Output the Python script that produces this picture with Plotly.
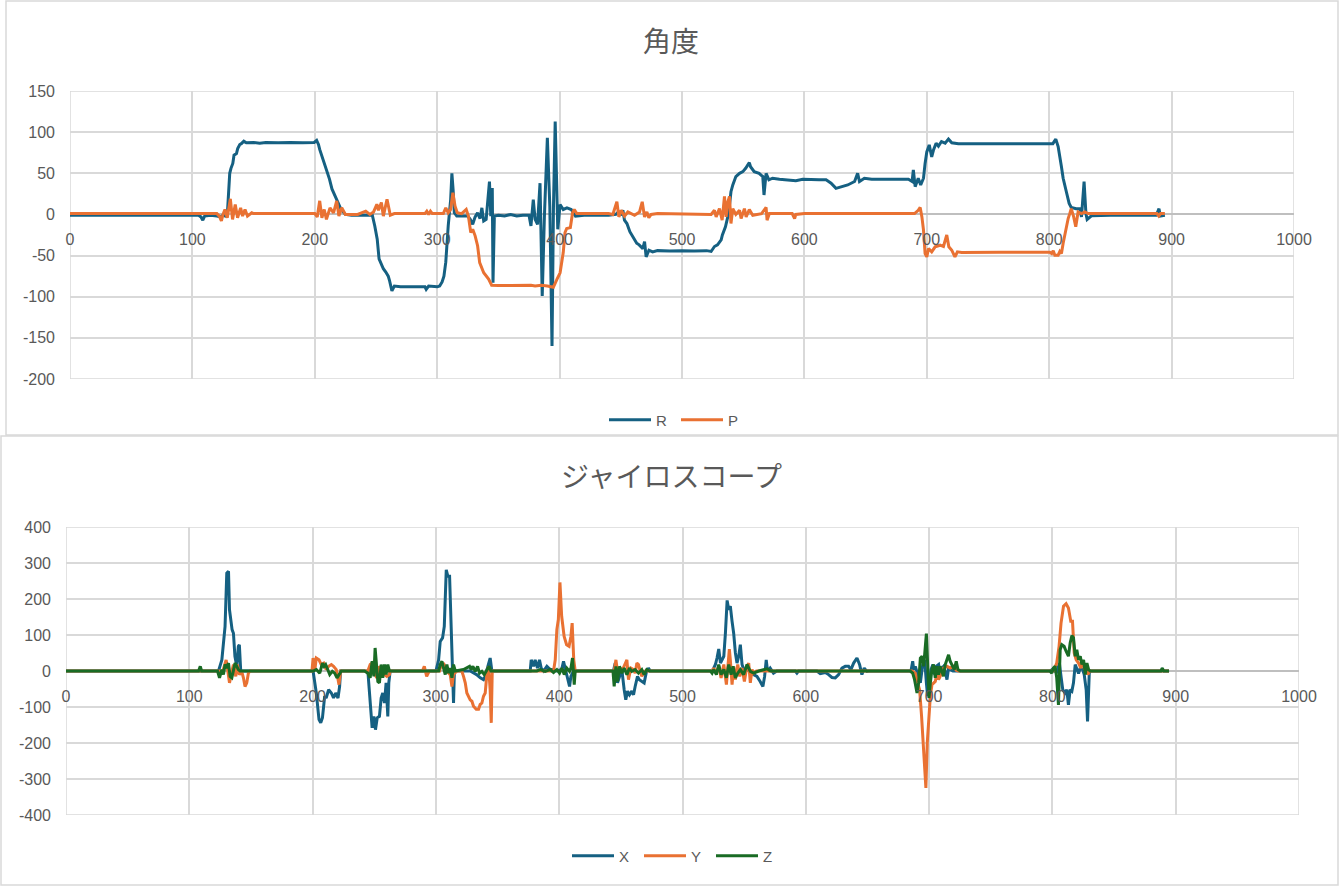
import plotly.graph_objects as go

# ---------------- data: 角度 (angle) ----------------
R_x = [0, 20, 50, 80, 105, 107, 108.5, 110, 115, 120, 123, 125, 127, 128.5, 129.5, 130.5, 131.5, 133, 134, 136, 137, 138.7, 140, 142, 144, 150, 155, 160, 170, 180, 190, 199.5, 201.5, 203, 204, 206, 207, 209, 212, 214, 216, 218, 220, 221.5, 225, 230, 240, 247, 249, 251, 252.5, 256, 258, 260, 261, 263, 265, 270, 280, 290, 291, 293, 300, 302, 304, 305.5, 307, 308, 309, 311, 312, 313, 314, 316, 320, 325, 327, 329, 331, 333, 335, 336.5, 338, 340, 342.7, 343.8, 345, 345.6, 346.7, 350, 355, 360, 365, 370, 375, 376.6, 378.5, 380, 382, 384, 385.8, 387.6, 390, 392, 393.8, 395, 396.4, 398.5, 400.4, 403, 406, 409.5, 413, 420, 430, 440, 446, 448, 450, 451.7, 453, 455, 457.4, 460, 463, 465, 468, 469.4, 470.7, 473, 476, 480, 490, 500, 510, 520, 523.8, 526.5, 529, 532, 533, 535.5, 537.4, 538.8, 540, 541.5, 544, 547, 549.7, 552, 555, 556, 559, 563, 566, 567, 568.7, 571, 574, 579.6, 585, 593, 598.6, 605, 612, 617.7, 621.8, 625.8, 629.9, 635.4, 641, 643.5, 645, 649, 655, 665, 675, 685, 688, 689, 690.5, 693, 695, 697.3, 698.6, 700, 702, 704, 705.4, 707.6, 709.5, 712, 715, 717.7, 720.4, 725.8, 740, 760, 780, 803, 805.4, 807.3, 810, 811.4, 814, 816.3, 818, 822, 825, 826.4, 828.5, 830, 831, 834.5, 850, 870, 887.5, 889.7, 890.8, 894.5]
R_y = [-1, -1, -1, -1, -1, -3, -7, -2, -1, -2, -3, -1, -2, -1, 20, 50, 56, 62, 72, 74, 80, 85, 86, 89, 87, 87.5, 86.5, 87.5, 87, 87.5, 87, 87.5, 90, 85, 79, 70, 63, 55, 43, 31, 24, 18, 10, 6, 0, -1, -1, -1, -14, -30, -54, -66, -70, -75, -80, -93, -87, -88, -88, -88, -91, -87, -88, -87, -82, -75, -58, -30, -14, 18, 50, 30, 2, -2, -2, -2, -6, -12, -3, 2, -5, 8, -8, -6, 40, -2, 32, -83, -2, -1, -2, 0, -2, -1, -1, -14, 18, -6, -12, 38, -99, -2, 93, 10, -160, 10, 113, -18, 12, 6, 8, 6, -2, -1, -1, -1, 0, 3, -1, 5, -7, -11, -21, -27, -35, -37, -41.5, -33, -51.6, -43.5, -45.5, -44, -44.5, -44, -44.5, -44, -45, -39, -37, -31, -25, -15, -3, 11, 27.6, 35.8, 46, 50, 52, 56, 63, 58, 52, 50, 46, 23.6, 50, 42, 44, 42.7, 42, 41, 42.7, 42, 42, 42, 38, 31.7, 33.7, 35.8, 40, 50, 40, 44, 42.7, 42.7, 42.7, 42.7, 40, 54, 33.7, 44, 35.8, 44, 62, 76, 84.5, 70, 78, 86.6, 83, 88.6, 86.6, 91.5, 87, 85.8, 86, 86, 86, 86, 91.5, 82.5, 58, 44, 27.6, 13.4, 8.5, 7, 7, -3, 40, 1, -6, -1.6, -1, -1, -1, 7, -2, -1]

P_x = [0, 50, 100, 120, 122, 123.7, 125, 126.6, 128.5, 131, 132.8, 135, 136.9, 139.4, 141, 143, 145, 148.5, 150, 200, 202, 204, 205.8, 207.7, 209.5, 212.4, 215.3, 217.9, 219.7, 222, 225, 235, 241.6, 245, 248, 250.7, 252, 254.4, 256, 259, 261.7, 265, 290, 291.5, 293, 294.5, 296, 305, 307, 309, 311, 312.8, 314.6, 316.4, 320, 323.7, 325.5, 327.4, 329, 331, 333, 334.7, 338, 342, 344.5, 350, 360, 370, 376.6, 380, 385, 390, 394.9, 397.8, 400.4, 403, 404.4, 405.8, 408.8, 410.6, 412, 414, 440, 443.5, 446.8, 448.4, 450.3, 453, 455.8, 461.2, 465.3, 467.5, 469.4, 471.3, 472.9, 474.8, 480, 523.8, 526.5, 527.9, 530.6, 532.8, 534.7, 536, 537.4, 538.8, 540, 541.5, 544, 547, 548.3, 551, 552.4, 555, 557.8, 565, 568.7, 569.5, 571.4, 590, 592, 593, 600, 620, 640, 660, 680, 690, 693, 694.6, 696, 697.3, 698.6, 700, 701.4, 704, 706.8, 710.9, 713.6, 716.3, 718, 720.4, 723, 725, 728.5, 740, 760, 780, 800.5, 802, 803.3, 804.6, 807.3, 808.7, 810, 811.4, 812.8, 814, 815.5, 816.8, 818, 820, 821.7, 823.6, 826.4, 829, 831.8, 860, 888, 889.5, 891, 894.5]
P_y = [1, 1, 1, 1, -2, -8, 0, 6, -4, 19, -6, 12, -4, 8, -2, 6, -2, 2, 1, 1, -3, 16.5, -4, 6, -6, 8, 2, 16.5, -2, 8, 0, 0, 4, 0, 3, 12.4, 5, 14.4, -2, 18.5, -1, 1, 1, 4, 0, 4, 1, 1, 8, 2, 6, 26.5, 10, 2, 1, 6, -2, -22, -18, -26, -38, -58.6, -70.8, -78.6, -86, -86.5, -86.5, -86.5, -86, -87, -86, -87, -88.6, -79, -71, -46, -22, -17, -16, 2, 6, 1, 1, 0, 15.4, -3, 5, -2, 3, -1, 3, 15.4, -3, 3, -4, 0, 1, 0, 5, -3, 7, -7, 22, -3, 15, 22, -11, 7, 0, 5, -5, 7, -3, 6, -1, 1, 8.5, -7, 1, 1, -5, 0, 1, 1, 1, 1, 1, 1, 5, 8.5, -3, -19, -47.5, -51.6, -41.5, -45.5, -39.4, -37.4, -39, -25, -39.4, -43.5, -51.6, -45.5, -46.3, -46, -46, -46, -46, -47.5, -44, -49.6, -49.6, -45, -47.5, -35, -23, -15, -5, 1, 7, -3, -15, 3, 1, 3, 1, 1, 1, -2, 1, 1]

# ---------------- data: ジャイロスコープ (gyroscope) ----------------
X_x = [0, 122, 123.7, 126.4, 127.7, 129, 130.4, 131.8, 132.6, 133.6, 134.7, 135.8, 137, 138.5, 139.8, 140.6, 141.7, 200.4, 203, 205.2, 206.6, 208, 209.8, 211, 213, 215.2, 217, 218.7, 220.6, 221.9, 222.7, 244.8, 246.2, 247.5, 248.3, 249.7, 251, 252.4, 254.2, 255.6, 256.9, 258.3, 259.6, 261, 261.8, 262.9, 300, 302.2, 303.5, 305.4, 306.8, 308.4, 309.7, 311.1, 312.2, 313, 314.3, 315, 327.8, 333, 336, 338.6, 340, 341.4, 342.7, 344, 345.4, 376.5, 377.3, 379.2, 380.5, 382.4, 384, 385.4, 387.3, 390, 392.7, 395.4, 398, 402, 403.5, 406, 408.4, 409.5, 411.6, 444, 445.4, 447.3, 448.9, 450.8, 452.7, 454, 455.4, 457, 458.9, 460.3, 461.6, 463.5, 465, 467, 468.9, 470.5, 472.4, 473.8, 524, 525.3, 526.7, 528, 529.4, 530.8, 532.1, 533.5, 534.8, 536.2, 537.5, 538.8, 540.2, 541.5, 542.9, 544.2, 545.6, 546.9, 548.3, 549.6, 552.3, 555, 557.7, 560.4, 563, 565.2, 566.6, 567.9, 569, 571.1, 573.8, 576.5, 591.4, 592.8, 594.1, 609, 611.7, 615.8, 618.5, 621.2, 623.9, 626.6, 629.3, 632, 634.7, 636.6, 638.8, 641.5, 643.6, 645.5, 647.4, 649.6, 650.9, 685.3, 686.7, 687.5, 688.8, 690.2, 691.5, 692.9, 694.8, 696.4, 697.8, 698.8, 700.2, 701.5, 703.1, 704.5, 705.8, 707.7, 709, 710.4, 711.7, 713.1, 714.5, 715.8, 717.1, 719.3, 798, 800.8, 803.5, 805.7, 807, 808.4, 810.3, 811.7, 813, 814.4, 815.8, 817.1, 818.5, 819.8, 821.2, 822.6, 824.5, 825.8, 827.4, 828.5, 829.9, 830.7, 888, 889, 890, 894.6]
X_y = [0, 0, 0, 31, 78, 124, 272, 277, 170, 143, 115, 105, 41, 13, 68.5, 73, 0, 0, -61, -135, -144, -130, -70, -75, -52, -61, -75, -61, -75, -43, 0, 0, -61, -117, -158, -126, -163, -130, -126, -75, -61, -89, -33, -126, -33, 0, 0, 31, 82, 92, 124, 281, 263, 263, 152, 22, -89, 0, 0, -10, -19, -24, -15, 4, 22, 36, 0, 0, 31, 13, 31, 8, 31, 8, 0, 13, 4, 4, 0, 4, 27, -10, -43, -15, 0, 0, 22, -33, -15, 4, -52, -80, -56, -66, -56, -66, -43, -15, -24, -29, -33, -6, 8, 0, 0, 8, 18, 36, 61, 22, 31, 41, 105, 196, 170, 180, 138, 105, 50, 22, 41, 73, 18, 4, 8, -6, -10, -15, -29, -43, -15, 31, -1, 8, -6, 0, 0, -6, 0, 0, -7, -4, -10, -18, -19, -10, 8, 13, 13, 4, 22, 36, 18, -10, 8, -1, 0, 0, 27, 4, 13, -1, -15, -33, 18, 31, -33, -70, -33, 4, 18, -10, 13, 18, -10, 8, 13, -1, -24, 8, 4, 0, 0, 6, -6, 22, -15, -52, -61, -52, -94, -52, -56, -33, 18, 4, -7, 8, 4, -10, -52, -140, -6, 0, 0, 4, 0, 0]

Y_x = [0, 127.2, 129.9, 131.2, 132.6, 133.9, 135.8, 137.7, 139, 140.6, 142.5, 143.9, 145.2, 146.6, 147.9, 149.3, 199.5, 200.4, 201.7, 203, 205.2, 207, 209, 211, 213, 215.2, 217, 219.2, 221.4, 222.7, 244.8, 246.7, 248.3, 250.2, 252, 254.2, 256.4, 258.3, 260.2, 262.3, 262.9, 289, 290.6, 292.5, 294.6, 303, 303.5, 306.2, 308.9, 311.6, 313, 314.3, 317, 321, 322.4, 323.8, 325.1, 326.5, 327.8, 329.2, 330.5, 332.7, 334.6, 335.9, 337.3, 338.6, 340, 341.4, 342.7, 344, 344.9, 345.7, 395.4, 396.8, 398.1, 399.3, 400.6, 402, 404, 406, 408, 409.5, 410.5, 411.8, 413, 444.6, 446, 447.3, 449.5, 451.4, 453.5, 454.9, 456.2, 458.1, 460.3, 461.6, 463, 464.3, 465.7, 467, 468.9, 470, 524, 525.3, 527.5, 529.4, 531.3, 533.5, 535.6, 536.9, 538, 538.8, 540.2, 541.5, 542.9, 544.8, 546.4, 548.3, 550.2, 551.8, 553.7, 555, 556.4, 557.7, 559.9, 686.2, 688.8, 690.7, 692.3, 693.9, 695, 696.4, 697.4, 698.5, 699.6, 701, 702.3, 703.6, 705, 706.3, 707.7, 709.6, 711.7, 714.5, 717.1, 719.9, 722, 723.9, 800.8, 803.5, 805.4, 807, 809, 811.1, 813, 814.9, 816.3, 817.7, 819.3, 821.2, 823.1, 824.7, 826.1, 827.4, 828.8, 830.2, 894.6]
Y_y = [0, 0, 31, 4, -33, -10, 18, -15, 18, -10, -1, -19, -43, -33, -6, 0, 0, 36, 0, 36, 31, 18, 22, 4, 13, 18, 13, 4, -38, 0, 0, 18, 22, -6, -19, 13, -1, -10, -15, -10, 0, 0, 13, -15, 0, 0, 8, 22, -1, -10, -43, -10, 0, 0, -15, -33, -61, -70, -80, -84, -98, -106, -106, -93, -89, -70, -61, -6, 13, -52, -144, 0, 0, 31, 115, 143, 246, 152, 96, 73, 68.5, 96, 133, 31, 0, 0, 31, -1, 8, 4, 18, 31, -24, 8, 4, -6, 22, 18, -1, -15, -1, 0, 0, 8, -6, 13, -19, 18, -38, 22, 61, 31, -38, 13, -24, 18, -15, 8, -29, 4, 22, -33, 4, -6, 0, 0, -6, -33, -52, -126, -200, -255, -325, -200, -144, -70, -38, -33, -29, -6, -24, -10, 8, 13, 8, 13, 2, 0, 0, 22, 68.5, 133, 180, 187, 175, 138, 138, 50, 31, 22, 8, 27, 4, 13, -10, 0, 0]

Z_x = [0, 107.5, 108.9, 110, 122.9, 124.5, 126.4, 127.7, 129, 130.4, 131.8, 133.1, 134.5, 135.8, 137.1, 138.5, 139.8, 141.2, 200.4, 203, 205.8, 208, 209.3, 210.6, 212.5, 213.9, 216, 217.9, 219.8, 221.4, 223.3, 242.1, 244.8, 246.7, 248.3, 249.7, 250.7, 251.5, 252.9, 254.2, 255.6, 256.9, 258.3, 259.6, 261, 262.3, 302.2, 303.5, 304.9, 306.2, 307.6, 308.9, 310.3, 311.6, 313, 314.3, 315.7, 322.4, 325.1, 327.3, 328.6, 330, 331.9, 333.8, 335.4, 337.3, 339.2, 341.4, 343.2, 344.6, 381.9, 384.6, 388.6, 392.7, 395.4, 398.1, 400.3, 402.2, 404.1, 406.2, 408.4, 409.5, 410.8, 412.2, 413, 443.6, 444.6, 446, 447.3, 448.9, 450.8, 452.7, 454.9, 457, 458.9, 461.6, 464.3, 467, 468.9, 471, 473.2, 522.7, 524, 525.3, 527.5, 529.4, 531.3, 533.5, 535.6, 537.5, 539.4, 541, 542.9, 544.8, 546.9, 549.6, 552.3, 555, 557.7, 561.8, 568.6, 571.3, 684.6, 686.7, 688.2, 690.2, 691.5, 692.9, 694.3, 695.6, 697, 697.8, 698.8, 699.9, 701, 702.3, 703.6, 705, 706.3, 707.7, 709, 710.4, 711.7, 713.1, 714.5, 715.8, 717.1, 718.5, 720.4, 722, 723.4, 725.3, 798, 799.5, 800.8, 802.2, 803.5, 804.9, 806.3, 807.6, 809.5, 811.1, 813, 814.4, 815.8, 817.1, 818.5, 819.8, 821.2, 822.6, 823.9, 825.3, 826.7, 828, 829.4, 830.7, 888, 889.1, 890.2, 894.6]
Z_y = [0, 0, 13, 0, 0, -19, 4, -10, 18, 8, 22, -15, -19, -1, 22, 13, 4, 0, 0, 4, -6, 22, 13, 18, 4, -10, -1, -6, -19, -10, 0, 0, -6, -19, 27, -15, 64, 31, -29, -33, 18, -19, 18, -10, 18, 0, 0, 18, 27, 8, -10, 18, -6, 8, -19, 18, 0, 4, 8, 13, 4, 13, -1, 13, -6, -1, -10, 4, 13, 0, 0, 4, -1, 4, -4, 4, -6, 8, -10, 8, -1, 8, 36, -38, 0, 0, -43, 13, -29, 13, -6, 8, -10, 8, -1, 4, -6, 4, -10, 4, 0, 0, -6, 4, -10, 18, -10, 4, -19, 18, -10, 13, -19, -6, 4, -10, 18, -1, -6, 0, 6, 0, 0, -6, -24, -61, -33, 36, 41, 13, 78, 104, 22, -75, -33, 4, 18, -19, 13, -10, 13, -1, -15, 18, 31, 45, 27, 18, 4, 27, 4, 0, 0, -6, 8, 13, -19, -94, 59, 73, 68.5, 55, 41, 78, 98, 92, 41, 59, 31, 41, 18, 31, -10, 22, 4, 0, 0, 8, 0, 0]

X_TICKS = [0, 100, 200, 300, 400, 500, 600, 700, 800, 900, 1000]
Y_TICKS_TOP = [150, 100, 50, 0, -50, -100, -150, -200]
Y_TICKS_BOTTOM = [400, 300, 200, 100, 0, -100, -200, -300, -400]
TITLE_TOP = "角度"
TITLE_BOTTOM = "ジャイロスコープ"

# ---------------- figure ----------------
W, H = 1342, 887


def fx(p):
    return p / W


def fy(p):
    return 1 - p / H


C_BLUE = "#156082"
C_ORANGE = "#E97132"
C_GREEN = "#196B24"
GRID = "#d9d9d9"
TXT = "#595959"
TICKFONT = dict(family="Liberation Sans, Noto Sans CJK JP, sans-serif", size=16, color=TXT)
LEGFONT = dict(family="Liberation Sans, Noto Sans CJK JP, sans-serif", size=15, color=TXT)

fig = go.Figure()
fig.add_trace(go.Scatter(x=R_x, y=R_y, name="R", mode="lines",
                         line=dict(color=C_BLUE, width=3), xaxis="x", yaxis="y", legend="legend"))
fig.add_trace(go.Scatter(x=P_x, y=P_y, name="P", mode="lines",
                         line=dict(color=C_ORANGE, width=3), xaxis="x", yaxis="y", legend="legend"))
fig.add_trace(go.Scatter(x=X_x, y=X_y, name="X", mode="lines",
                         line=dict(color=C_BLUE, width=3), xaxis="x2", yaxis="y2", legend="legend2"))
fig.add_trace(go.Scatter(x=Y_x, y=Y_y, name="Y", mode="lines",
                         line=dict(color=C_ORANGE, width=3), xaxis="x2", yaxis="y2", legend="legend2"))
fig.add_trace(go.Scatter(x=Z_x, y=Z_y, name="Z", mode="lines",
                         line=dict(color=C_GREEN, width=3), xaxis="x2", yaxis="y2", legend="legend2"))

xcommon = dict(range=[0, 1000], tickvals=X_TICKS, ticktext=[str(v) for v in X_TICKS],
               showgrid=True, gridcolor=GRID, gridwidth=1.5,
               zeroline=False, showline=False, ticks="", tickfont=TICKFONT, fixedrange=True,
               ticklabelstandoff=14, automargin=False)
ycommon = dict(showgrid=True, gridcolor=GRID, gridwidth=1.5, zeroline=True,
               zerolinecolor="#bfbfbf", zerolinewidth=2, showline=False, ticks="",
               tickfont=TICKFONT, fixedrange=True, ticklabelstandoff=14, automargin=False)

legcommon = dict(orientation="h", xanchor="center", yanchor="middle", font=LEGFONT,
                 bgcolor="rgba(0,0,0,0)", itemwidth=42, entrywidth=15, tracegroupgap=0)

fig.update_layout(
    width=W, height=H, margin=dict(l=0, r=0, t=0, b=0, autoexpand=False),
    paper_bgcolor="white", plot_bgcolor="white",
    xaxis=dict(domain=[fx(70), fx(1294)], anchor="free", position=fy(214.4), **xcommon),
    yaxis=dict(domain=[fy(379), fy(91)], range=[-200, 150], tickvals=Y_TICKS_TOP,
               ticktext=[str(v) for v in Y_TICKS_TOP], anchor="x", **ycommon),
    xaxis2=dict(domain=[fx(66), fx(1299)], anchor="free", position=fy(671), **xcommon),
    yaxis2=dict(domain=[fy(815), fy(527)], range=[-400, 400], tickvals=Y_TICKS_BOTTOM,
                ticktext=[str(v) for v in Y_TICKS_BOTTOM], anchor="x2", **ycommon),
    legend=dict(x=fx(676), y=fy(420), **legcommon),
    legend2=dict(x=fx(675), y=fy(856), **legcommon),
    shapes=[
        dict(type="rect", xref="paper", yref="paper", x0=fx(6), x1=fx(1338), y0=fy(435), y1=fy(1),
             line=dict(color=GRID, width=1.5), layer="below"),
        dict(type="rect", xref="paper", yref="paper", x0=fx(1), x1=fx(1338), y0=fy(885), y1=fy(436),
             line=dict(color=GRID, width=1.5), layer="below"),
        # plot-area frame lines (edge gridlines) in axis coordinates
        dict(type="rect", xref="x", yref="y", x0=X_TICKS[0], x1=X_TICKS[-1],
             y0=Y_TICKS_TOP[-1], y1=Y_TICKS_TOP[0], line=dict(color=GRID, width=1.5), layer="below"),
        dict(type="rect", xref="x2", yref="y2", x0=X_TICKS[0], x1=X_TICKS[-1],
             y0=Y_TICKS_BOTTOM[-1], y1=Y_TICKS_BOTTOM[0], line=dict(color=GRID, width=1.5), layer="below"),
    ],
    annotations=[
        dict(text=TITLE_TOP, xref="paper", yref="paper", x=fx(671), y=fy(40), showarrow=False,
             xanchor="center", yanchor="middle",
             font=dict(family="Noto Sans CJK JP", size=28, color=TXT)),
        dict(text=TITLE_BOTTOM, xref="paper", yref="paper", x=fx(671), y=fy(475), showarrow=False,
             xanchor="center", yanchor="middle",
             font=dict(family="Noto Sans CJK JP", size=28, color=TXT)),
    ],
    showlegend=True,
)

fig.write_html("out.html")
